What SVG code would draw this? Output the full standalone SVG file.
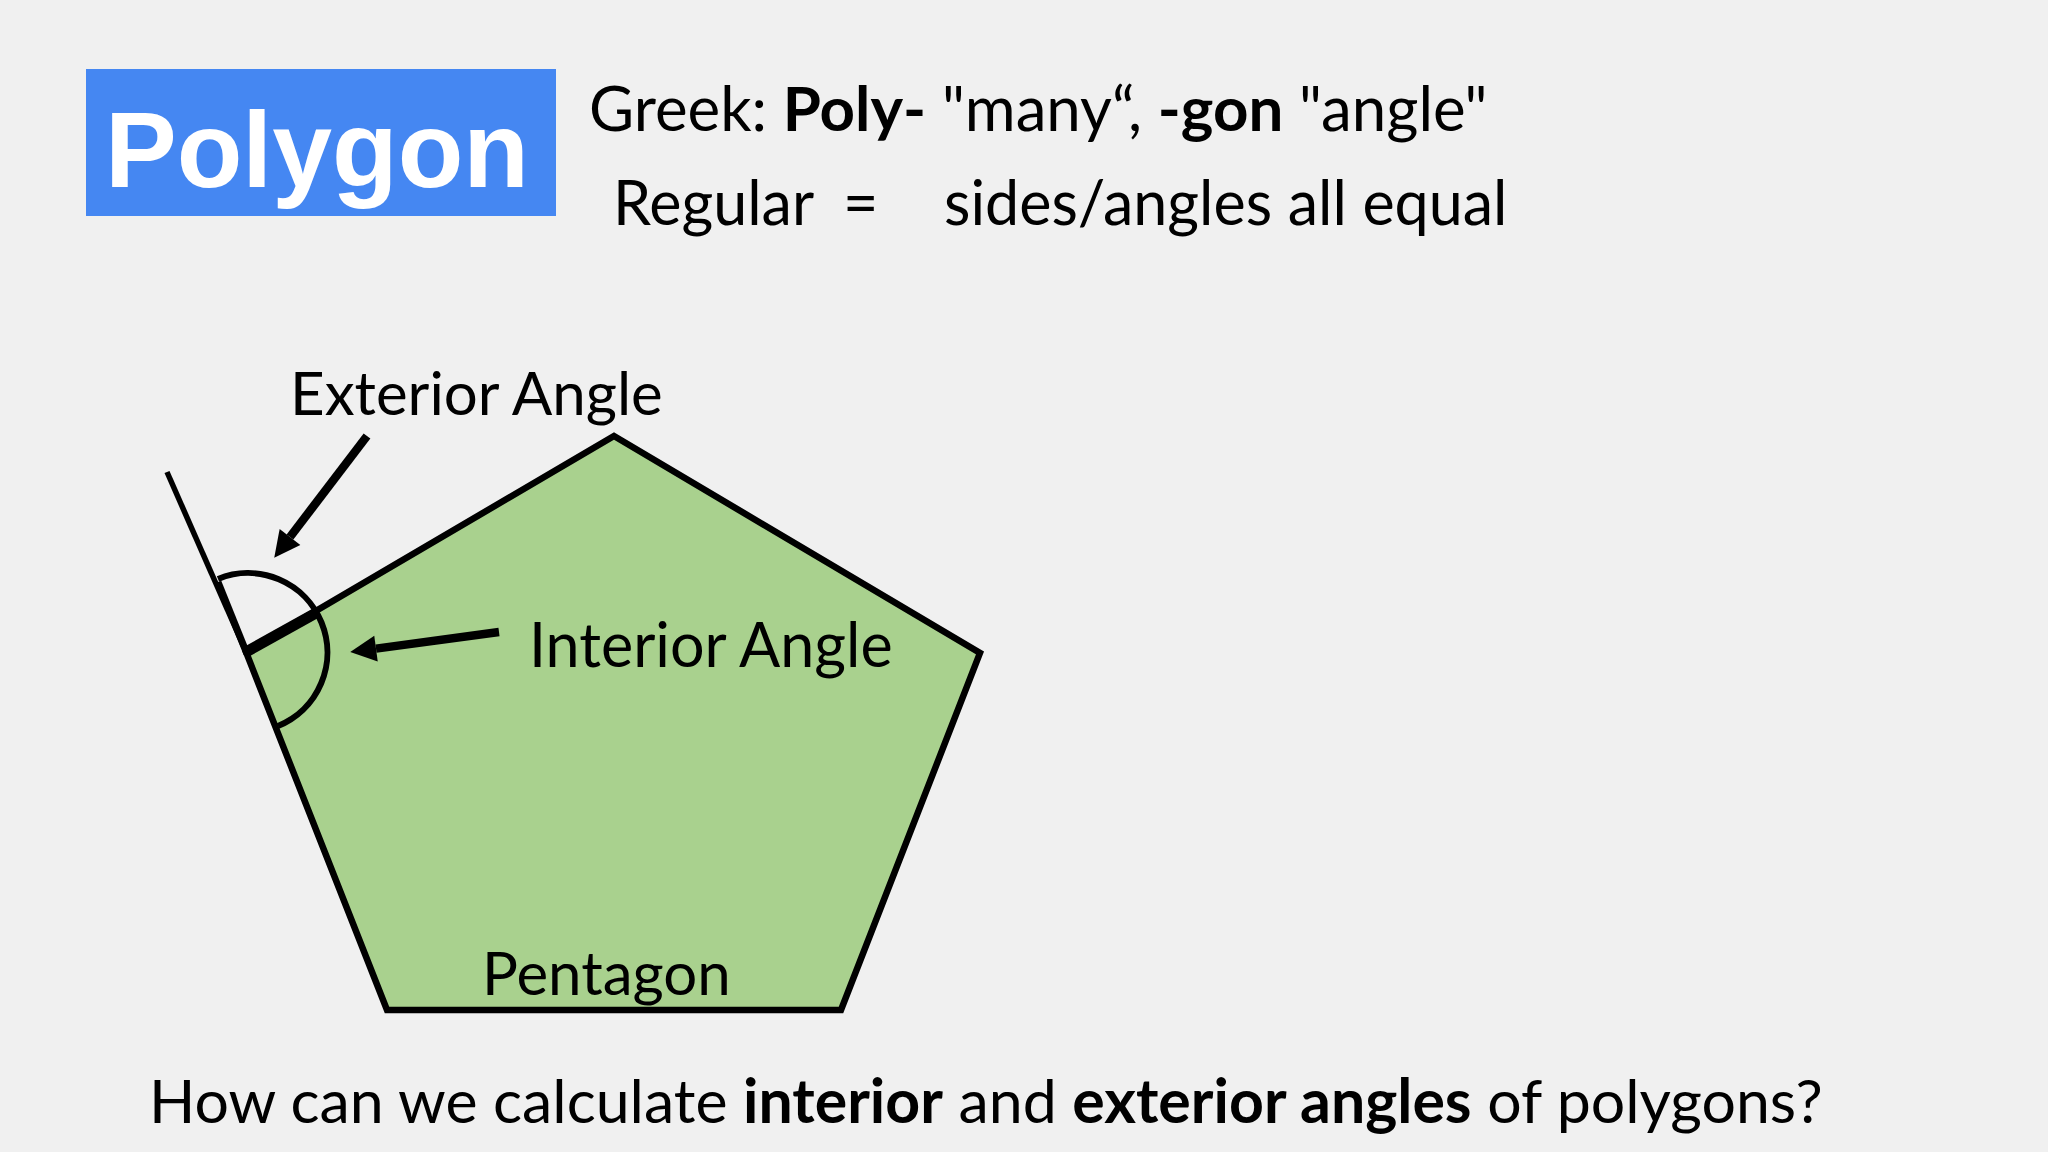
<svg xmlns="http://www.w3.org/2000/svg" width="2048" height="1152" viewBox="0 0 2048 1152">
<defs>
<style>
.t{font-family:Lato,"Noto Sans",sans-serif;fill:#000}
.b{font-weight:bold}
.ln{stroke:#000;fill:none}
</style>
<marker id="ah" viewBox="-1 -15 30 30" refX="0" refY="0" markerUnits="userSpaceOnUse" markerWidth="30" markerHeight="30" orient="auto">
<path d="M0,-13 L26,0 L0,13 z" fill="#000"/>
</marker>
</defs>
<rect width="2048" height="1152" fill="#F0F0F0"/>
<g id="title">
<rect x="86" y="69" width="470" height="147" fill="#4587F2"/>
<text x="105" y="187" font-family="'Liberation Sans',Arial,sans-serif" font-size="107.5" font-weight="bold" fill="#fff">Polygon</text>
</g>
<g id="greek">
<text class="t" x="589" y="131" font-size="61.8">Greek: <tspan class="b">Poly-</tspan> "many“, <tspan class="b">-gon</tspan> "angle"</text>
</g>
<g id="regular">
<text class="t" y="225" font-size="61"><tspan x="613">Regular</tspan><tspan x="843">=</tspan><tspan x="944">sides/angles all equal</tspan></text>
</g>
<g id="pentagon">
<polygon points="614,436 980,653 841,1010 387,1010 246,652" fill="#A9D18E" stroke="#000" stroke-width="6.5" stroke-linejoin="miter"/>
<text class="t" x="482" y="995" font-size="60">Pentagon</text>
</g>
<g id="angles">
<line class="ln" x1="167" y1="472" x2="246" y2="652" stroke-width="5.5"/>
<line class="ln" x1="218" y1="582" x2="247" y2="654" stroke-width="7"/>
<line class="ln" x1="246" y1="652" x2="316" y2="613" stroke-width="11"/>
<path class="ln" d="M218,579 A79,79 0 1 1 278,726" stroke-width="6"/>
</g>
<g id="labels">
<text class="t" x="290" y="415" font-size="60">Exterior Angle</text>
<text class="t" x="529" y="667" font-size="61">Interior Angle</text>
</g>
<g id="connectors">
<line class="ln" x1="367" y1="436" x2="290" y2="537" stroke-width="8.5" marker-end="url(#ah)"/>
<line class="ln" x1="499" y1="632" x2="376" y2="648.6" stroke-width="8.5" marker-end="url(#ah)"/>
</g>
<g id="question">
<text class="t" x="149" y="1123" font-size="60.8">How can we calculate <tspan class="b">interior</tspan> and <tspan class="b">exterior angles</tspan> of polygons?</text>
</g>
</svg>
